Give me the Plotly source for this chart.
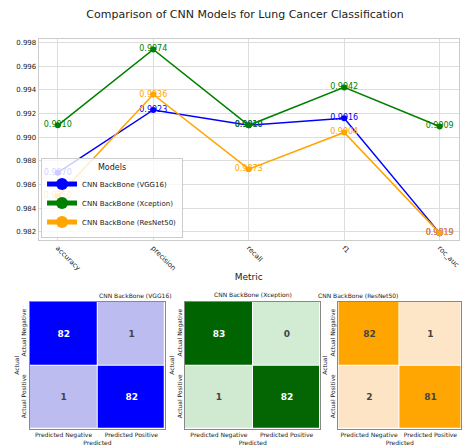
import plotly.graph_objects as go

metrics = ["accuracy", "precision", "recall", "f1", "roc_auc"]
models = ["CNN BackBone (VGG16)", "CNN BackBone (Xception)", "CNN BackBone (ResNet50)"]
vgg16 = [0.9870, 0.9923, 0.9910, 0.9916, 0.9819]
xception = [0.9910, 0.9974, 0.9910, 0.9942, 0.9909]
resnet50 = [0.9850, 0.9936, 0.9873, 0.9904, 0.9819]
colors = ["blue", "green", "orange"]

pred_labels = ["Predicted Negative", "Predicted Positive"]
actual_labels = ["Actual Negative", "Actual Positive"]
cm_vgg16 = [[82, 1], [1, 82]]
cm_xception = [[83, 0], [1, 82]]
cm_resnet50 = [[82, 1], [2, 81]]
cm_scales = [
    [[0, "#bcbcf0"], [1, "#0000ff"]],
    [[0, "#d2ecd4"], [1, "#006400"]],
    [[0, "#fde5c7"], [1, "#ffa500"]],
]

fig = go.Figure()
for name, vals, c in zip(models, [vgg16, xception, resnet50], colors):
    fig.add_trace(go.Scatter(
        x=metrics, y=vals, name=name, mode="lines+markers+text",
        line=dict(color=c, width=1.5), marker=dict(color=c, size=6),
        text=[f"{v:.4f}" for v in vals], textposition="middle center",
        textfont=dict(color=c, size=8), xaxis="x", yaxis="y"))

doms = [(0.046, 0.333), (0.375, 0.662), (0.70, 0.96)]
for i, (cm, sc, title) in enumerate(zip([cm_vgg16, cm_xception, cm_resnet50], cm_scales, models)):
    n = i + 2
    fig.add_trace(go.Heatmap(
        z=cm, x=pred_labels, y=actual_labels, colorscale=sc, showscale=False,
        xgap=1, ygap=1, text=cm, texttemplate="<b>%{text}</b>",
        textfont=dict(size=9),
        xaxis=f"x{n}", yaxis=f"y{n}", showlegend=False, hoverinfo="z"))
    ax = dict(domain=doms[i], tickfont=dict(size=6), showline=True, linecolor="#888",
              mirror=True, title=dict(text="Predicted", font=dict(size=6), standoff=1),
              anchor=f"y{n}")
    ay = dict(domain=[0.045, 0.345], tickfont=dict(size=6), tickangle=-90, autorange="reversed",
              showline=True, linecolor="#888", mirror=True, anchor=f"x{n}",
              title=dict(text="Actual", font=dict(size=6), standoff=0))
    fig.update_layout(**{f"xaxis{n}": ax, f"yaxis{n}": ay})
    fig.add_annotation(text=title, x=sum(doms[i]) / 2, y=0.347, xref="paper", yref="paper",
                       showarrow=False, font=dict(size=6), yanchor="bottom")

fig.update_layout(
    width=474, height=446, margin=dict(l=0, r=0, t=16, b=6),
    paper_bgcolor="white", plot_bgcolor="white",
    font=dict(family="DejaVu Sans", color="#222"),
    title=dict(text="Comparison of CNN Models for Lung Cancer Classification",
               x=0.5, y=0.995, font=dict(size=11)),
    xaxis=dict(domain=[0.065, 0.955], anchor="y", tickangle=45, tickfont=dict(size=7),
               showgrid=True, gridcolor="#ddd", showline=True, linecolor="#ccc", mirror=True,
               range=[-0.2, 4.2], title=dict(text="Metric", font=dict(size=9), standoff=2)),
    yaxis=dict(domain=[0.49, 0.965], anchor="x", range=[0.9813, 0.9983], dtick=0.002,
               tickformat=".3f", tickfont=dict(size=7), showgrid=True, gridcolor="#ddd",
               showline=True, linecolor="#ccc", mirror=True),
    legend=dict(title=dict(text="Models", side="top center", font=dict(size=8)),
                x=0.07, y=0.495, xanchor="left", yanchor="bottom", font=dict(size=7),
                bordercolor="#ccc", borderwidth=1, bgcolor="rgba(255,255,255,0.8)",
                tracegroupgap=0, itemsizing="constant"),
)
fig.write_html("out.html")
